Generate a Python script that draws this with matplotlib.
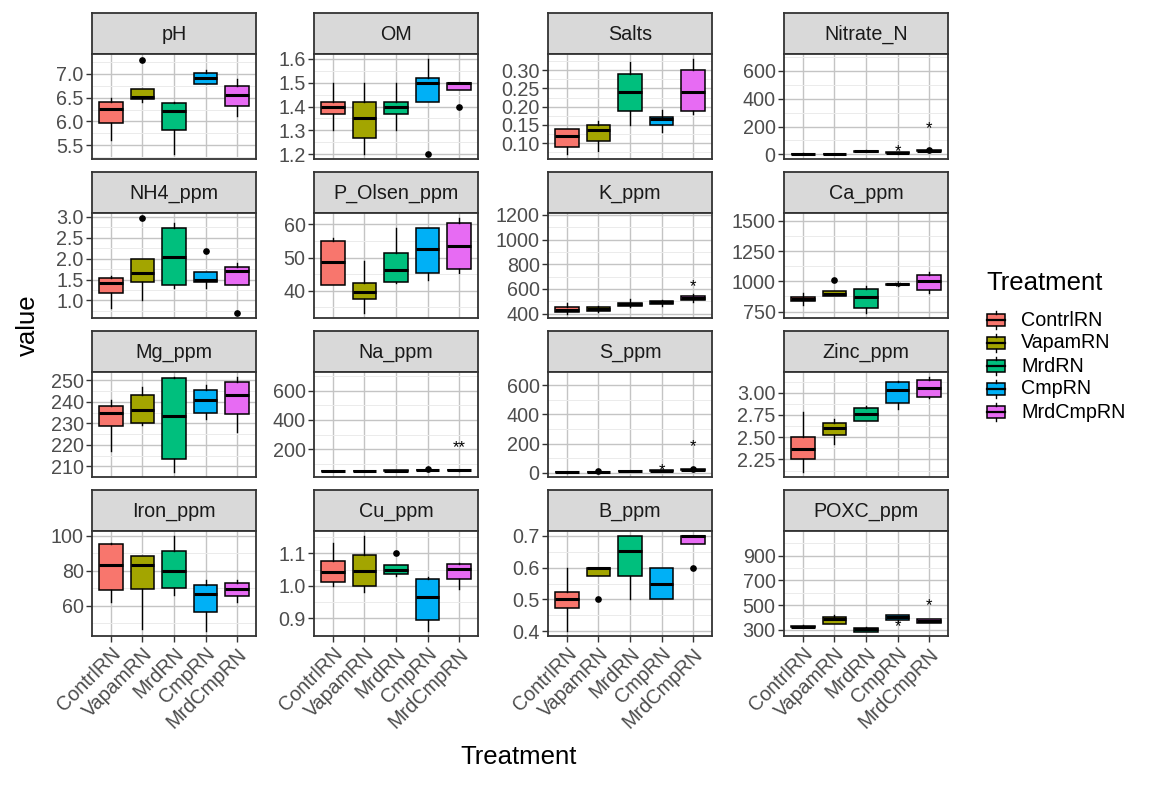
import matplotlib
matplotlib.use("Agg")
import matplotlib.pyplot as plt
from matplotlib.patches import Rectangle

plt.rcParams["font.family"] = ["Liberation Sans", "DejaVu Sans"]

TREATMENTS = ["ContrlRN", "VapamRN", "MrdRN", "CmpRN", "MrdCmpRN"]
COLORS = ["#F8766D", "#A3A500", "#00BF7D", "#00B0F6", "#E76BF3"]

VARIABLES = ["pH", "OM", "Salts", "Nitrate_N",
             "NH4_ppm", "P_Olsen_ppm", "K_ppm", "Ca_ppm",
             "Mg_ppm", "Na_ppm", "S_ppm", "Zinc_ppm",
             "Iron_ppm", "Cu_ppm", "B_ppm", "POXC_ppm"]

# lower whisker, lower hinge, median, upper hinge, upper whisker (one row per treatment)
BOX_STATS = {
    "pH": [[5.61, 5.97, 6.26, 6.42, 6.49], [6.42, 6.48, 6.51, 6.69, 6.69],
           [5.31, 5.83, 6.22, 6.39, 6.40], [6.79, 6.79, 6.91, 7.02, 7.08],
           [6.11, 6.33, 6.55, 6.75, 6.90]],
    "OM": [[1.30, 1.37, 1.40, 1.42, 1.50], [1.20, 1.27, 1.35, 1.42, 1.50],
           [1.30, 1.37, 1.40, 1.42, 1.50], [1.42, 1.42, 1.50, 1.52, 1.60],
           [1.47, 1.47, 1.50, 1.50, 1.50]],
    "Salts": [[0.070, 0.090, 0.119, 0.138, 0.138], [0.078, 0.106, 0.137, 0.151, 0.160],
              [0.150, 0.188, 0.241, 0.289, 0.321], [0.131, 0.151, 0.165, 0.173, 0.190],
              [0.181, 0.188, 0.241, 0.300, 0.331]],
    "Nitrate_N": [[1, 2, 3, 5, 7], [1, 2, 3, 4, 6], [15, 18, 22, 26, 30],
                  [4, 7, 10, 14, 18], [20, 23, 26, 29, 32]],
    "NH4_ppm": [[0.83, 1.17, 1.41, 1.53, 1.59], [1.02, 1.43, 1.66, 2.00, 2.00],
                [1.30, 1.36, 2.04, 2.72, 2.86], [1.30, 1.43, 1.50, 1.67, 1.67],
                [1.36, 1.36, 1.71, 1.81, 1.89]],
    "P_Olsen_ppm": [[41.6, 41.8, 48.6, 54.9, 56.0], [33.2, 37.5, 39.7, 42.3, 49.0],
                    [42.3, 42.6, 46.1, 51.3, 59.0], [43.3, 45.4, 52.5, 59.0, 59.0],
                    [45.4, 46.6, 53.6, 60.4, 62.0]],
    "K_ppm": [[400, 411, 430, 452, 485], [411, 419, 435, 452, 460],
              [452, 460, 474, 487, 520], [460, 476, 493, 504, 512],
              [496, 509, 523, 542, 556]],
    "Ca_ppm": [[806, 836, 858, 872, 900], [878, 878, 894, 919, 919],
               [736, 778, 867, 936, 961], [965, 967, 975, 981, 985],
               [900, 928, 1000, 1056, 1075]],
    "Mg_ppm": [[217.2, 228.6, 235.0, 238.0, 240.9], [229.1, 230.3, 236.4, 243.1, 246.9],
               [207.3, 213.6, 233.4, 250.9, 251.3], [232.2, 234.7, 240.6, 245.3, 248.0],
               [226.1, 234.5, 243.3, 249.2, 251.6]],
    "Na_ppm": [[48, 49, 50, 51, 52], [48, 49, 50, 51, 52], [47, 49, 52, 55, 56],
               [52, 54, 56, 58, 59], [53, 55, 57, 58, 59]],
    "S_ppm": [[3, 4, 5, 6, 7], [6, 8, 9, 10, 11], [11, 13, 14, 15, 16],
              [13, 15, 16, 17, 18], [19, 21, 23, 24, 25]],
    "Zinc_ppm": [[2.106, 2.258, 2.371, 2.496, 2.784], [2.424, 2.519, 2.602, 2.655, 2.705],
                 [2.678, 2.678, 2.765, 2.826, 2.852], [2.811, 2.883, 3.027, 3.121, 3.136],
                 [2.936, 2.951, 3.049, 3.140, 3.178]],
    "Iron_ppm": [[62.3, 68.8, 83.3, 95.0, 95.8], [46.6, 69.6, 83.5, 88.3, 88.3],
                 [66.3, 70.0, 80.1, 91.2, 100.0], [45.5, 56.7, 66.7, 72.1, 74.7],
                 [62.3, 65.4, 69.8, 72.8, 74.7]],
    "Cu_ppm": [[0.999, 1.012, 1.043, 1.078, 1.132], [0.981, 1.000, 1.046, 1.096, 1.154],
               [1.031, 1.038, 1.048, 1.063, 1.063], [0.861, 0.895, 0.966, 1.022, 1.029],
               [0.991, 1.020, 1.053, 1.068, 1.070]],
    "B_ppm": [[0.400, 0.472, 0.500, 0.523, 0.600], [0.573, 0.573, 0.600, 0.600, 0.600],
              [0.500, 0.573, 0.651, 0.698, 0.698], [0.500, 0.500, 0.549, 0.600, 0.600],
              [0.674, 0.674, 0.700, 0.700, 0.700]],
    "POXC_ppm": [[320, 322, 327, 333, 336], [347, 352, 388, 401, 420],
                 [286, 286, 305, 319, 325], [374, 379, 401, 418, 420],
                 [358, 358, 371, 385, 390]],
}

# (treatment index, value)
OUTLIERS = {
    "pH": [(1, 7.29)],
    "OM": [(3, 1.20), (4, 1.40)],
    "Nitrate_N": [(4, 34)],
    "NH4_ppm": [(1, 2.98), (3, 2.17), (4, 0.69)],
    "Ca_ppm": [(1, 1008)],
    "Na_ppm": [(3, 61)],
    "S_ppm": [(1, 12), (4, 26)],
    "Cu_ppm": [(2, 1.10)],
    "B_ppm": [(1, 0.50), (4, 0.60)],
}

# (treatment index, value, label)
SIGNIF = {
    "Nitrate_N": [(3, 55, "*"), (4, 221, "*")],
    "K_ppm": [(4, 657, "*")],
    "Ca_ppm": [(3, 994, "*")],
    "Na_ppm": [(4, 246, "**")],
    "S_ppm": [(3, 53, "*"), (4, 215, "*")],
    "POXC_ppm": [(3, 365, "*"), (4, 538, "*")],
}

Y_TICKS = {
    "pH": ["5.5", "6.0", "6.5", "7.0"],
    "OM": ["1.2", "1.3", "1.4", "1.5", "1.6"],
    "Salts": ["0.10", "0.15", "0.20", "0.25", "0.30"],
    "Nitrate_N": ["0", "200", "400", "600"],
    "NH4_ppm": ["1.0", "1.5", "2.0", "2.5", "3.0"],
    "P_Olsen_ppm": ["40", "50", "60"],
    "K_ppm": ["400", "600", "800", "1000", "1200"],
    "Ca_ppm": ["750", "1000", "1250", "1500"],
    "Mg_ppm": ["210", "220", "230", "240", "250"],
    "Na_ppm": ["200", "400", "600"],
    "S_ppm": ["0", "200", "400", "600"],
    "Zinc_ppm": ["2.25", "2.50", "2.75", "3.00"],
    "Iron_ppm": ["60", "80", "100"],
    "Cu_ppm": ["0.9", "1.0", "1.1"],
    "B_ppm": ["0.4", "0.5", "0.6", "0.7"],
    "POXC_ppm": ["300", "500", "700", "900"],
}

Y_LIMITS = {
    "pH": (5.21, 7.42), "OM": (1.18, 1.62), "Salts": (0.057, 0.344),
    "Nitrate_N": (-33, 721), "NH4_ppm": (0.58, 3.09), "P_Olsen_ppm": (31.8, 63.4),
    "K_ppm": (364, 1216), "Ca_ppm": (697, 1564), "Mg_ppm": (205.1, 253.8),
    "Na_ppm": (9, 729), "S_ppm": (-27.5, 689), "Zinc_ppm": (2.052, 3.232),
    "Iron_ppm": (42.8, 102.7), "Cu_ppm": (0.846, 1.169), "B_ppm": (0.385, 0.715),
    "POXC_ppm": (251, 1100),
}

W, H = 1154, 785
COL_LEFT = [92, 314, 548, 784]
ROW_TOP = [13, 172, 331, 490]
PANEL_W, STRIP_H, PANEL_H = 164, 41, 105

BORDER = "#333333"
TICK_TXT = "#4D4D4D"
FS_SMALL = 14.2
FS_TITLE = 18.5


def fig_rect(left, top, width, height):
    return [left / W, 1 - (top + height) / H, width / W, height / H]


def draw_panel(fig, var, col, row):
    top = ROW_TOP[row]
    strip = fig.add_axes(fig_rect(COL_LEFT[col], top, PANEL_W, STRIP_H))
    strip.set_facecolor("#D9D9D9")
    strip.set_xticks([])
    strip.set_yticks([])
    for s in strip.spines.values():
        s.set_color(BORDER)
        s.set_linewidth(1.3)
    strip.text(0.5, 0.48, var, ha="center", va="center", fontsize=FS_SMALL,
               color="#1A1A1A", transform=strip.transAxes)

    ax = fig.add_axes(fig_rect(COL_LEFT[col], top + STRIP_H, PANEL_W, PANEL_H))
    ax.set_facecolor("white")
    ax.set_axisbelow(True)

    stats = []
    for i, (lo, q1, med, q3, hi) in enumerate(BOX_STATS[var]):
        fl = [v for j, v in OUTLIERS.get(var, []) if j == i]
        stats.append(dict(whislo=lo, q1=q1, med=med, q3=q3, whishi=hi, fliers=fl))
    bp = ax.bxp(stats, positions=range(1, 6), widths=0.75, patch_artist=True,
                showcaps=False,
                boxprops=dict(edgecolor="black", linewidth=1.1),
                medianprops=dict(color="black", linewidth=2.2, solid_capstyle="butt"),
                whiskerprops=dict(color="black", linewidth=1.0),
                flierprops=dict(marker="o", markerfacecolor="black",
                                markeredgecolor="black", markersize=3.8))
    for patch, c in zip(bp["boxes"], COLORS):
        patch.set_facecolor(c)

    for i, v, lab in SIGNIF.get(var, []):
        ax.annotate(lab, (i + 1, v), xytext=(0, -7), textcoords="offset points",
                    ha="center", va="baseline", fontsize=12, color="black")

    ticks = [float(t) for t in Y_TICKS[var]]
    lo, hi = Y_LIMITS[var]
    step = ticks[1] - ticks[0]
    minor = [ticks[0] - step / 2 + step * k for k in range(len(ticks) + 1)]
    minor = [m for m in minor if lo <= m <= hi]
    ax.set_ylim(lo, hi)
    ax.set_xlim(0.4, 5.6)
    ax.set_yticks(ticks)
    ax.set_yticklabels(Y_TICKS[var])
    ax.set_yticks(minor, minor=True)
    ax.grid(which="major", color="#C4C4C4", linewidth=1.0)
    ax.grid(which="minor", axis="y", color="#EBEBEB", linewidth=0.7)
    ax.tick_params(axis="y", which="major", length=4, width=1.0, color=BORDER,
                   labelsize=FS_SMALL, labelcolor=TICK_TXT, pad=2)
    ax.tick_params(axis="y", which="minor", length=0)

    ax.set_xticks(range(1, 6))
    if row == 3:
        ax.set_xticklabels(TREATMENTS)
        ax.tick_params(axis="x", length=4, width=1.0, color=BORDER,
                       labelsize=FS_SMALL, labelcolor=TICK_TXT, pad=2)
        plt.setp(ax.get_xticklabels(), rotation=45, ha="right",
                 rotation_mode="anchor")
    else:
        ax.set_xticklabels([])
        ax.tick_params(axis="x", length=0)

    for s in ax.spines.values():
        s.set_color(BORDER)
        s.set_linewidth(1.3)


def draw_legend(fig):
    lg = fig.add_axes([0, 0, 1, 1])
    lg.set_xlim(0, W)
    lg.set_ylim(H, 0)
    lg.axis("off")
    lg.text(986, 283, "Treatment", fontsize=FS_TITLE, va="center", ha="left")
    key = 23
    for i, (name, c) in enumerate(zip(TREATMENTS, COLORS)):
        cx, cy = 996, 320 + 23 * i
        lg.plot([cx, cx], [cy - 0.4 * key, cy - 0.25 * key], color="black", lw=1.0)
        lg.plot([cx, cx], [cy + 0.25 * key, cy + 0.4 * key], color="black", lw=1.0)
        lg.add_patch(Rectangle((cx - 0.375 * key, cy - 0.25 * key), 0.75 * key,
                               0.5 * key, facecolor=c, edgecolor="black", lw=1.1))
        lg.plot([cx - 0.375 * key, cx + 0.375 * key], [cy, cy], color="black", lw=1.6)
        lg.text(1021, cy, name, fontsize=FS_SMALL, va="center", ha="left")


fig = plt.figure(figsize=(W / 100, H / 100), dpi=100)
for k, var in enumerate(VARIABLES):
    draw_panel(fig, var, k % 4, k // 4)

fig.text(28 / W, 1 - 325 / H, "value", rotation=90, fontsize=FS_TITLE,
         ha="center", va="center")
fig.text(519 / W, 1 - 757 / H, "Treatment", fontsize=FS_TITLE,
         ha="center", va="center")
draw_legend(fig)

fig.savefig("out.png", dpi=100)
